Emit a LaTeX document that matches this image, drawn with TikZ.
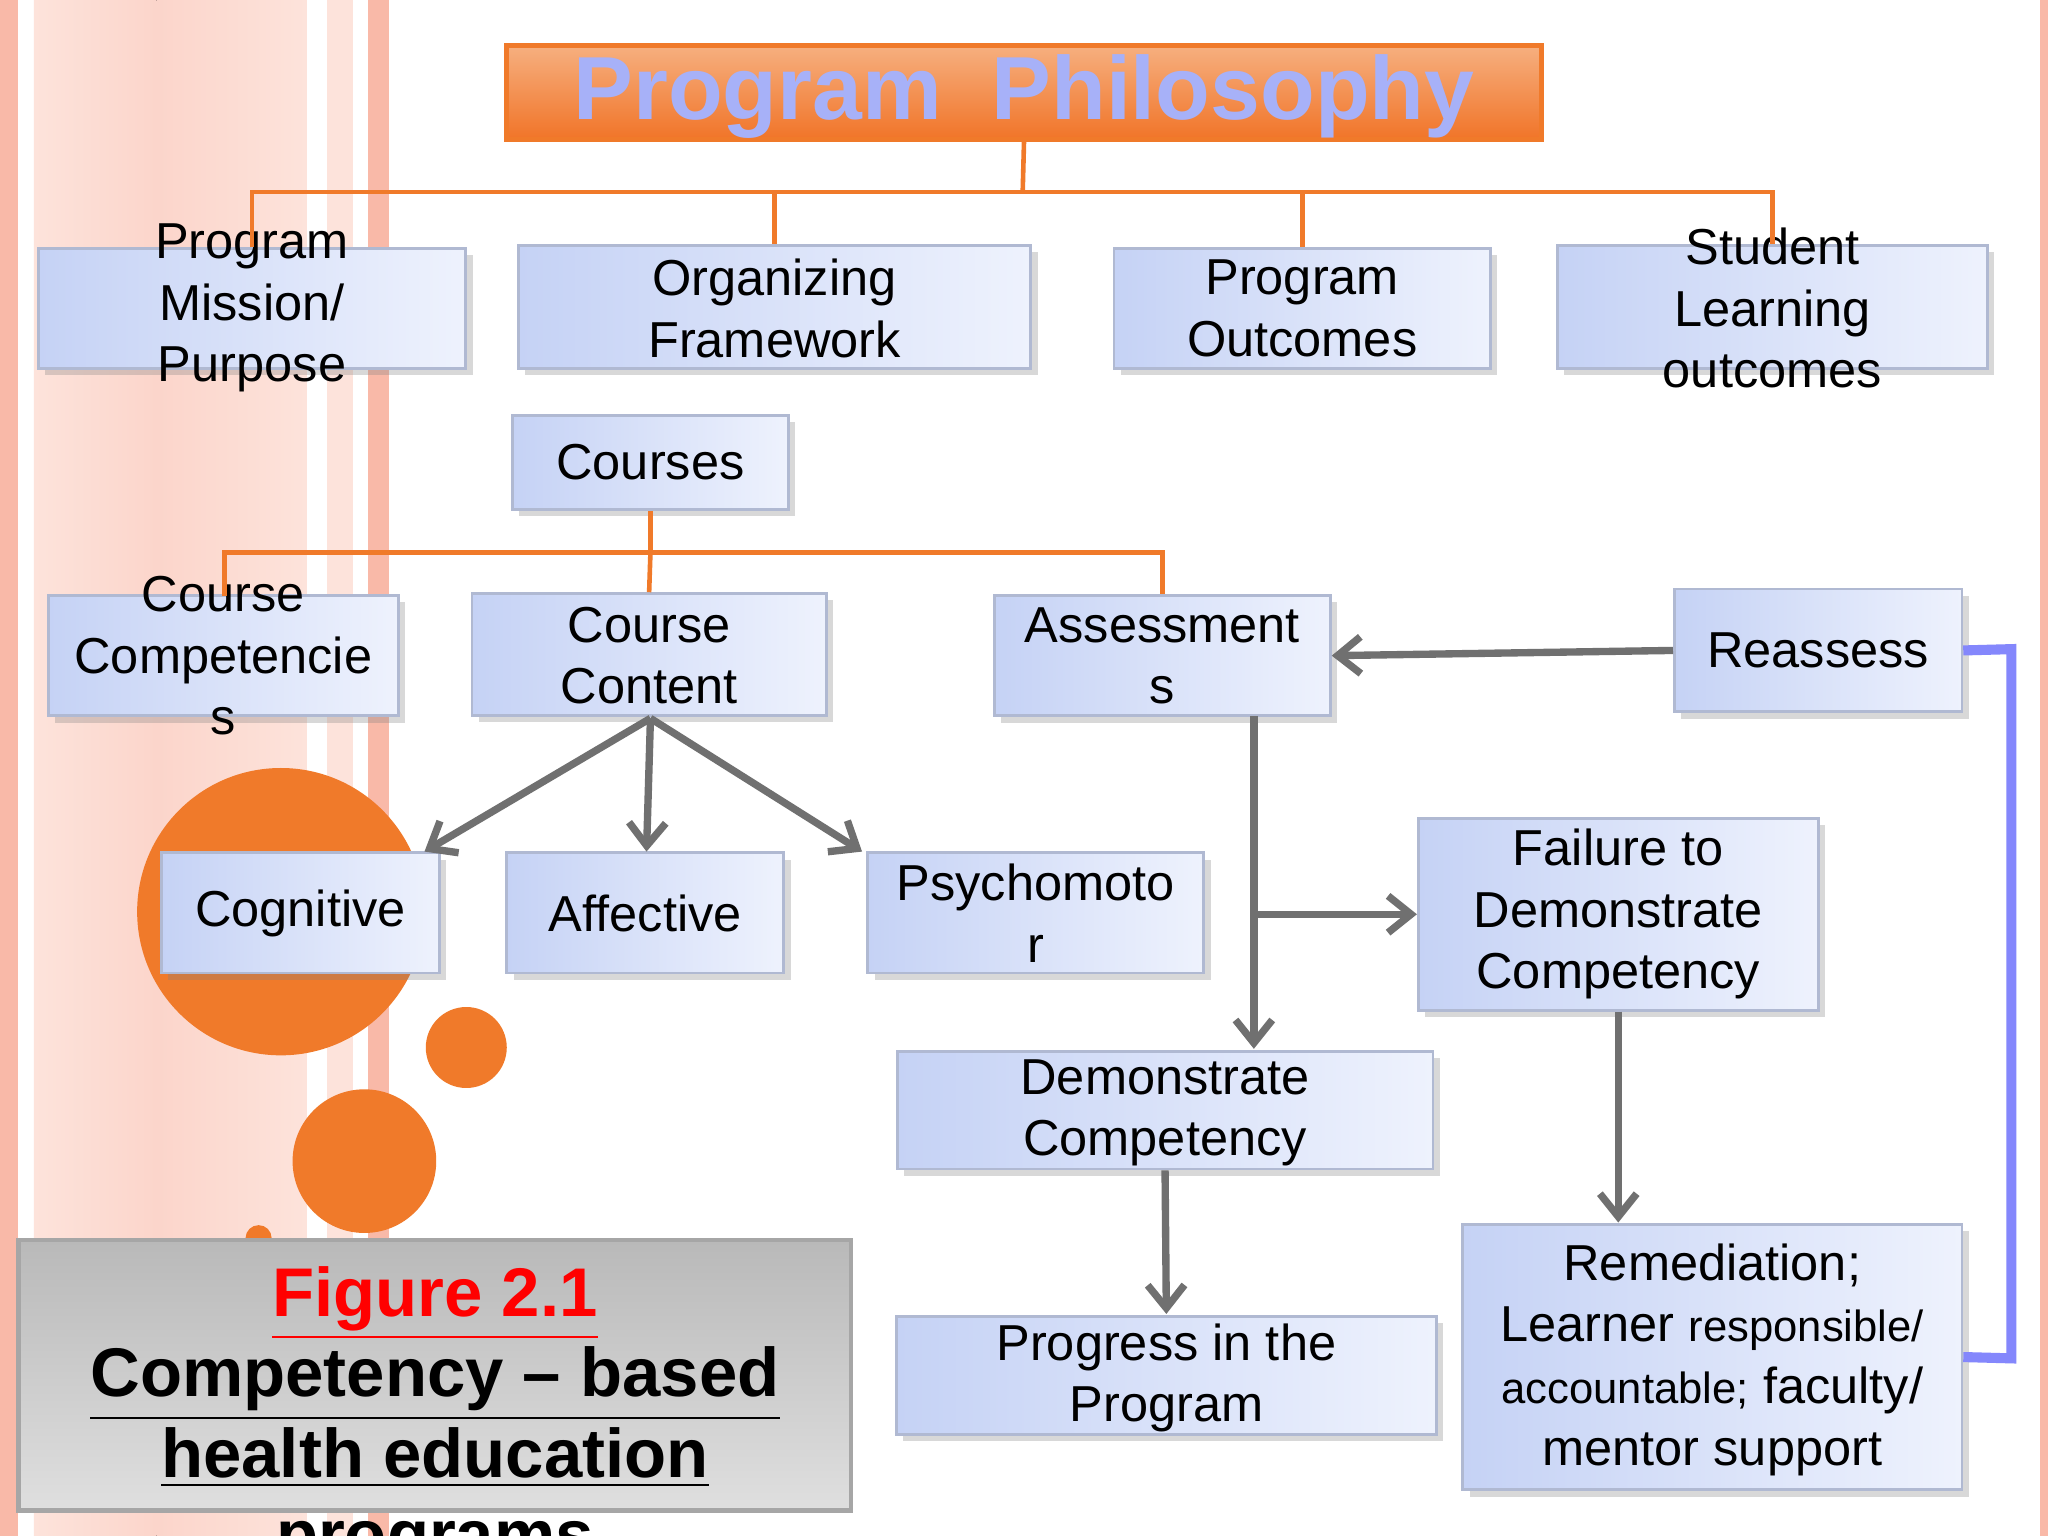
\documentclass[tikz,border=0pt]{standalone}
\usepackage{fontspec}
\setmainfont{Liberation Sans}
\usetikzlibrary{shadows,arrows.meta}
\definecolor{bxA}{HTML}{C5D2F5}
\definecolor{bxB}{HTML}{EEF2FD}
\definecolor{orl}{HTML}{F07A2A}
\definecolor{pinkA}{HTML}{F9B9A8}
\definecolor{pinkB}{HTML}{FDE3DB}
\definecolor{arr}{HTML}{707070}
\begin{document}
\begin{tikzpicture}[x=0.01cm,y=-0.01cm,
  bx/.style={draw=bxA!70!gray,line width=0.6pt,left color=bxA,right color=bxB,inner sep=0pt,drop shadow={shadow xshift=1.5pt,shadow yshift=-1.5pt,opacity=0.3}},
  tx/.style={font=\fontsize{11}{13.4}\selectfont,align=center,text=black},
  oc/.style={draw=orl,line width=1pt},
  ga/.style={draw=arr,line width=1.6pt,-{Straight Barb[length=5pt,width=8pt]}},
  gl/.style={draw=arr,line width=1.6pt}]
\useasboundingbox (0,0) rectangle (1568,1176);
\fill[white] (0,0) rectangle (1568,1176);
% left stripes
\fill[pinkA] (0,0) rectangle (14,1176);
\fill[left color=pinkB,right color=pinkA!60] (26,0) rectangle (120,1176);
\fill[left color=pinkA!60,right color=pinkB] (120,0) rectangle (235,1176);
\fill[pinkB] (250,0) rectangle (270,1176);
\fill[pinkA] (282,0) rectangle (298,1176);
\fill[pinkA] (1562,0) rectangle (1568,1176);
% circles
\fill[orl] (215,698) circle (110);
\fill[orl] (357,802) circle (31);
\fill[orl] (279,889) circle (55);
\fill[orl] (198,948) circle (10);
% title
\node[draw=orl,line width=1pt,top color=orl!60,bottom color=orl!95!red,minimum width=7.92cm,minimum height=0.72cm,inner sep=0pt] (title) at (784,71) {};
\node[font=\bfseries\fontsize{19.5}{22}\selectfont,text=bxA!80!blue!90] at (784,74) {Program~~Philosophy};
% top row boxes
\node[bx,minimum width=3.27cm,minimum height=0.92cm] (mis) at (193,236) {};
\node[bx,minimum width=3.92cm,minimum height=0.94cm] (org) at (593,235) {};
\node[bx,minimum width=2.88cm,minimum height=0.92cm] (pout) at (997,236) {};
\node[bx,minimum width=3.29cm,minimum height=0.94cm] (slo) at (1357,235) {};
\node[tx] at (193,236) {Program\\Mission/\\Purpose};
\node[tx] at (593,236) {Organizing\\Framework};
\node[tx] at (997,236) {Program\\Outcomes};
\node[tx] at (1357,236) {Student\\Learning\\outcomes};
\coordinate (t1) at (783,147);
\draw[oc] (title.south) -- (t1);
\draw[oc] (193,189) -- (193,147) -- (1357,147) -- (1357,187);
\draw[oc] (593,147) -- (org.north);
\draw[oc] (997,147) -- (pout.north);
% courses
\node[bx,minimum width=2.11cm,minimum height=0.72cm] (crs) at (498,354) {};
\node[tx] at (498,354) {Courses};
\node[bx,minimum width=2.68cm,minimum height=0.92cm] (cc) at (171,502) {};
\node[bx,minimum width=2.71cm,minimum height=0.93cm] (cont) at (497,501) {};
\node[bx,minimum width=2.57cm,minimum height=0.92cm] (ass) at (890,502) {};
\node[bx,minimum width=2.20cm,minimum height=0.94cm] (rea) at (1392,498) {};
\node[tx] at (171,502) {Course\\Competencie\\s};
\node[tx] at (497,502) {Course\\Content};
\node[tx] at (890,502) {Assessment\\s};
\node[tx] at (1392,498) {Reassess};
\draw[oc] (crs.south) -- (498,423);
\draw[oc] (172,456) -- (172,423) -- (890,423) -- (ass.north);
\draw[oc] (498,423) -- (cont.north);
\draw[ga] (rea.west) -- (ass.east);
% lower boxes
\node[bx,minimum width=2.13cm,minimum height=0.92cm] (cog) at (230,699) {};
\node[bx,minimum width=2.12cm,minimum height=0.92cm] (aff) at (494,699) {};
\node[bx,minimum width=2.57cm,minimum height=0.92cm] (psy) at (793,699) {};
\node[tx] at (230,699) {Cognitive};
\node[tx] at (494,699) {Affective};
\node[tx] at (793,699) {Psychomoto\\r};
\coordinate (cb) at (498,550);
\draw[ga] (cb) -- (325,652);
\draw[ga] (cb) -- (495,652);
\draw[ga] (cb) -- (660,652);
\node[bx,minimum width=3.06cm,minimum height=1.47cm] (fail) at (1239,700) {};
\node[tx] at (1239,700) {Failure to\\Demonstrate\\Competency};
\node[bx,minimum width=4.10cm,minimum height=0.90cm] (dem) at (892,850) {};
\node[tx] at (892,852) {Demonstrate\\Competency};
\node[bx,minimum width=4.13cm,minimum height=0.90cm] (prog) at (893,1053) {};
\node[tx] at (893,1055) {Progress in the\\Program};
\node[bx,minimum width=3.82cm,minimum height=2.03cm] (rem) at (1311,1039) {};
\node[tx] at (1311,1041) {Remediation;\\Learner {\fontsize{9.5}{13.4}\selectfont responsible/}\\{\fontsize{9.5}{13.4}\selectfont accountable;} faculty/\\mentor support};
\coordinate (ab) at (960,548);
\coordinate (am) at (960,700);
\coordinate (rt) at (1239,936);
\draw[ga] (ab) -- (960,803);
\draw[ga] (am) -- (fail.west);
\draw[ga] (dem.south) -- (893,1006);
\draw[ga] (fail.south) -- (rt);
\draw[draw=bxA!40!blue!70,line width=2.2pt] (rea.east) -- (1540,497) -- (1540,1040) -- (rem.east);
% figure box
\node[draw=gray!70,line width=1pt,top color=gray!55,bottom color=gray!25,minimum width=6.37cm,minimum height=2.07cm,inner sep=0pt] (fig) at (333,1053) {};
\begin{scope}
\clip (15,950) rectangle (652,1176);
\node[font=\bfseries\fontsize{15}{17.6}\selectfont,align=center] at (333,1087) {\textcolor{red}{\underline{Figure 2.1}}\\\underline{Competency – based}\\\underline{health education}\\programs};
\end{scope}
\end{tikzpicture}
\end{document}
